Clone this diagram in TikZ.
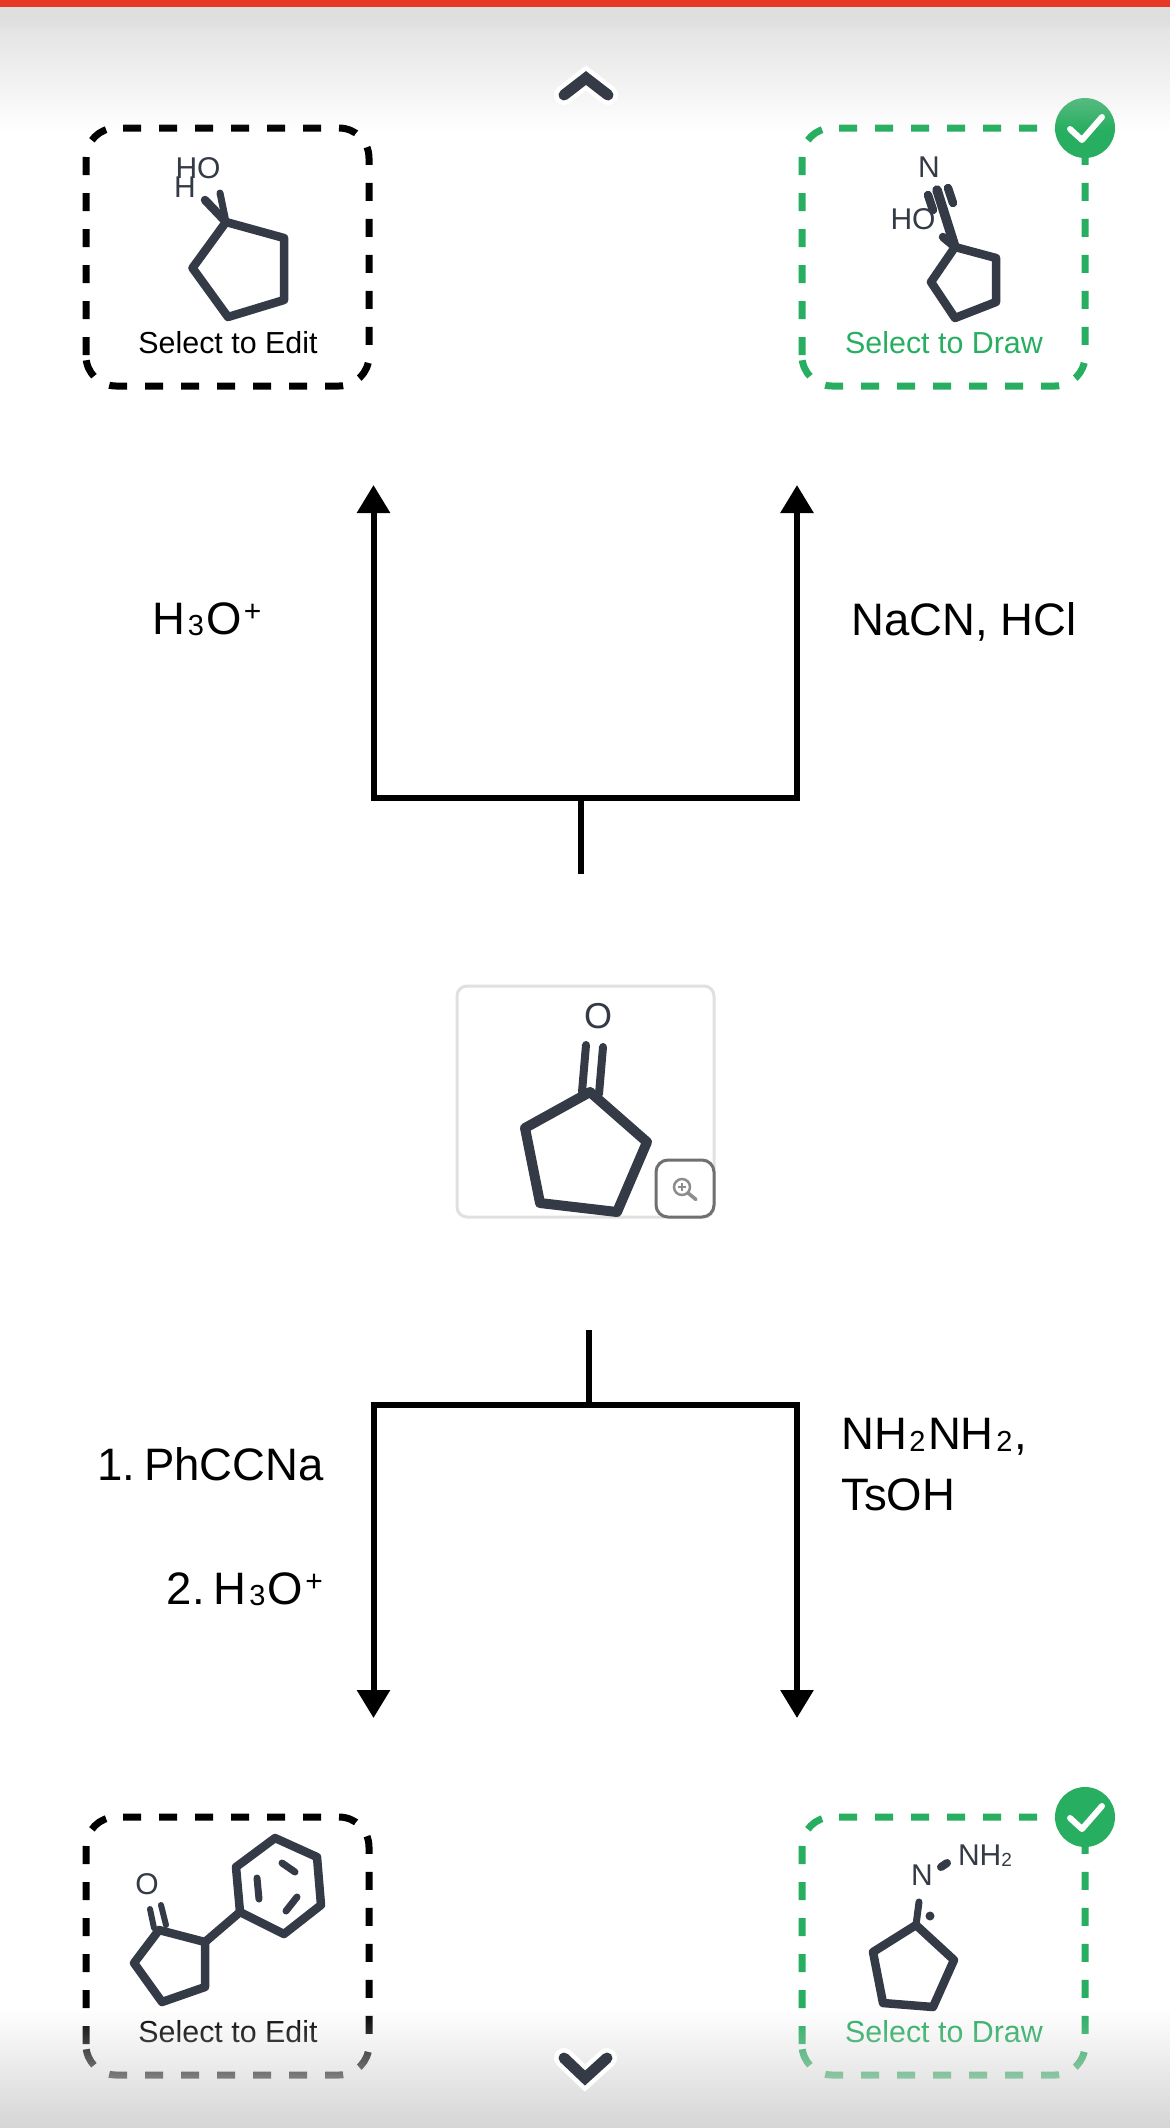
\documentclass[tikz,border=0pt]{standalone}
\usepackage{fontspec}
\setmainfont{Liberation Sans}
\usetikzlibrary{arrows.meta}
\definecolor{mol}{HTML}{343A46}
\definecolor{okgreen}{HTML}{27AE60}
\definecolor{redbar}{HTML}{E63A27}
\definecolor{boxgray}{HTML}{E0E0E0}
\definecolor{lensgray}{HTML}{707070}
\newcommand\sbs[1]{\kern2.5bp\raisebox{-1.5bp}{\fontsize{29bp}{29bp}\selectfont #1}\kern2.5bp}
\newcommand\sps[1]{\kern2bp\raisebox{13bp}{\fontsize{30bp}{30bp}\selectfont #1}}
\newcommand\sbm[1]{\raisebox{-1bp}{\fontsize{19bp}{19bp}\selectfont #1}}
\newcommand\dotgap{.\kern9bp}
\newcommand\answerbox[3]{%
  \draw[dashbox,draw=#3] (#1+37,#2) -- (#1+283,#2) -- (#1+283,#2+258) -- (#1,#2+258) -- (#1,#2+229);
  \draw[dashbox,draw=#3] (#1,#2+227) -- (#1,#2) -- (#1+37,#2);
}
\tikzset{
  bond/.style={draw=mol,line width=8.5bp,line cap=round,line join=round},
  thinbond/.style={draw=mol,line width=7bp,line cap=round,line join=round},
  atomlabel/.style={text=mol,font=\fontsize{30bp}{32bp}\selectfont,inner sep=0pt},
  biglabel/.style={text=black,font=\fontsize{45.5bp}{50bp}\selectfont,inner sep=0pt},
  hint/.style={font=\fontsize{30.4bp}{34bp}\selectfont,inner sep=0pt},
  dashbox/.style={line width=7bp,dash pattern=on 18bp off 18bp,rounded corners=30bp},
  fork/.style={draw=black,line width=6bp,miter limit=10},
  forktip/.style={-{Triangle[width=32bp,length=28bp]}},
  chev/.style={draw=mol,line width=11bp,line cap=round,line join=miter},
  chevhalo/.style={draw=white,line width=20bp,line cap=round,line join=miter},
  tick/.style={draw=white,line width=6bp,line join=round,line cap=round},
}
\begin{document}
\begin{tikzpicture}[x=1bp,y=-1bp]
\useasboundingbox (0,0) rectangle (1170,2128);
\fill[white] (0,0) rectangle (1170,2128);

% dashed answer boxes
\answerbox{86}{128}{black}
\answerbox{802}{128}{okgreen}
\answerbox{86}{1817}{black}
\answerbox{802}{1817}{okgreen}

% check badges
\fill[okgreen] (1085,128) circle (30);
\draw[tick] (1070,129) -- (1082,140) -- (1102,117);
\fill[okgreen] (1085,1817) circle (30);
\draw[tick] (1070,1818) -- (1082,1829) -- (1102,1806);

% fork above
\coordinate (topstem) at (581,874);
\coordinate (topjoin) at (581,797.5);
\coordinate (topleft) at (373.5,485);
\coordinate (topright) at (797,485);
\draw[fork] (topstem) -- (topjoin);
\draw[fork,forktip] (topjoin) -| (topleft);
\draw[fork,forktip] (topjoin) -| (topright);

% fork below
\coordinate (botstem) at (589,1330);
\coordinate (botjoin) at (589,1405);
\coordinate (botleft) at (373.5,1718);
\coordinate (botright) at (797,1718);
\draw[fork] (botstem) -- (botjoin);
\draw[fork,forktip] (botjoin) -| (botleft);
\draw[fork,forktip] (botjoin) -| (botright);

% reagent labels
\node[biglabel] (reagentA) at (207,619) {H\sbs{3}O\sps{+}};
\node[biglabel] (reagentB) at (964,622) {NaCN, HCl};
\node[biglabel,anchor=east] (reagentC) at (324,1464) {1\dotgap PhCCNa};
\node[biglabel,anchor=east] (reagentD) at (323,1589) {2\dotgap H\sbs{3}O\sps{+}};
\node[biglabel,anchor=west] (reagentE) at (841,1437) {NH\sbs{2}NH\sbs{2},};
\node[biglabel,anchor=west] (reagentF) at (841,1495) {TsOH};

% starting material card
\draw[draw=boxgray,line width=3bp,rounded corners=10bp,fill=white] (457,986) rectangle (714,1217);
\draw[bond,line width=10bp] (590,1092) -- (647,1142) -- (617,1212) -- (540,1203) -- (525,1128) -- cycle;
\draw[thinbond,line width=8bp] (582,1092) -- (586,1045);
\draw[thinbond,line width=8bp] (599,1094) -- (603,1047);
\node[atomlabel,font=\fontsize{36bp}{40bp}\selectfont] (oxoC) at (598,1016) {O};
\draw[draw=lensgray,line width=3bp,rounded corners=12bp,fill=white] (656,1160) rectangle (714,1217);
\draw[draw=lensgray!80,line width=2.5bp] (682,1187) circle (8);
\draw[draw=lensgray!80,line width=3.5bp,line cap=round] (688,1193) -- (696,1199.5);
\draw[draw=lensgray!80,line width=2bp] (678,1187) -- (686,1187) (682,1183) -- (682,1191);

% top-left product
\draw[bond] (226,222) -- (284,238) -- (284,300) -- (228,317) -- (192.5,268) -- cycle;
\draw[thinbond] (226,222) -- (220,193);
\draw[bond] (226,222) -- (205,200);
\node[atomlabel] (hoA) at (198,168) {HO};
\node[atomlabel] (hA) at (185,187) {H};
\node[hint,text=black] (editA) at (228,343) {Select to Edit};

% top-right product
\draw[bond] (955,247) -- (996,258) -- (996,302) -- (955,318) -- (931,282) -- cycle;
\draw[bond,line width=9.5bp] (955,247) -- (937,190);
\draw[bond] (933,210) -- (928,195);
\draw[bond] (953,203) -- (948,188);
\draw[bond] (955,247) -- (943,237);
\node[atomlabel] (nitB) at (929,167) {N};
\node[atomlabel] (hoB) at (913,219) {HO};
\node[hint,text=okgreen] (drawB) at (944,343) {Select to Draw};

% bottom-left product
\draw[bond] (159,1930) -- (205,1942) -- (205,1987) -- (162,2002) -- (134,1963) -- cycle;
\draw[bond] (205,1942) -- (240,1912);
\draw[bond] (240,1912) -- (284,1934) -- (321,1905) -- (317,1857) -- (275,1838) -- (236,1867) -- cycle;
\draw[thinbond] (257,1878) -- (259,1899);
\draw[thinbond] (297,1897) -- (286,1911);
\draw[thinbond] (282,1863) -- (295,1872);
\draw[thinbond,line width=6bp] (154,1928) -- (150,1909);
\draw[thinbond,line width=6bp] (166,1925) -- (161,1905);
\node[atomlabel] (oxoD) at (147,1884) {O};
\node[hint,text=black] (editD) at (228,2032) {Select to Edit};

% bottom-right product
\draw[bond] (916,1925) -- (954,1960) -- (933,2007) -- (883,2003) -- (873,1952) -- cycle;
\draw[thinbond] (916,1925) -- (919,1902);
\fill[mol] (930,1916) circle (4.5);
\node[atomlabel] (nitE) at (922,1875) {N};
\draw[thinbond,line width=8bp] (941,1867) -- (947,1863);
\node[atomlabel] (amineE) at (985,1856) {NH\sbm{2}};
\node[hint,text=okgreen] (drawE) at (944,2032) {Select to Draw};

% screen fades
\fill[redbar] (0,0) rectangle (1170,7);
\foreach \s in {7,8,...,29} {
  \pgfmathsetmacro\a{0.26*(30-\s)/23}
  \fill[black,opacity=\a] (0,\s) rectangle (1170,\s+1);
}
\foreach \s in {7,9,...,129} {
  \pgfmathsetmacro\a{(130-\s)/123}
  \fill[black!12.5,opacity=\a] (0,\s) rectangle (1170,\s+2);
}
\foreach \s in {2010,2012,...,2126} {
  \pgfmathsetmacro\a{(\s+2-2010)/118}
  \fill[black!16,opacity=\a] (0,\s) rectangle (1170,\s+2);
}

% scroll chevrons
\coordinate (upL) at (564,95);
\coordinate (upM) at (586,78);
\coordinate (upR) at (608,95);
\draw[chevhalo] (upL) -- (upM) -- (upR);
\draw[chev] (upL) -- (upM) -- (upR);
\coordinate (dnL) at (564,2058);
\coordinate (dnM) at (585,2078);
\coordinate (dnR) at (607,2058);
\draw[chevhalo] (dnL) -- (dnM) -- (dnR);
\draw[chev] (dnL) -- (dnM) -- (dnR);
\end{tikzpicture}
\end{document}
